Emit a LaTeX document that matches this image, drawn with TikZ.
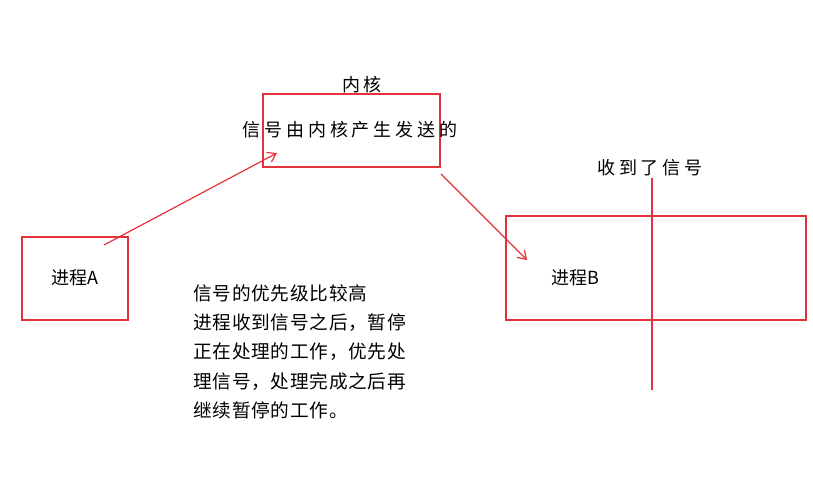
\documentclass[tikz,border=0pt]{standalone}
\usepackage{fontspec}
\newfontfamily\cjk{Noto Sans CJK SC}
\newfontfamily\cjkw[LetterSpace=22]{Noto Sans CJK SC}
\newfontfamily\cjkm[LetterSpace=4]{Noto Sans CJK SC}
\usetikzlibrary{arrows.meta}
\definecolor{lred}{RGB}{228,50,60}
\begin{document}
\begin{tikzpicture}[x=0.75pt,y=-0.75pt,
  box/.style={draw=lred, line width=0.9pt},
  conn/.style={draw=lred, line width=0.9pt, -{Straight Barb[length=6pt,width=8pt]}},
  txt/.style={font=\cjk\fontsize{13.5}{22}\selectfont, inner sep=0pt}]
\useasboundingbox (0,0) rectangle (813,476);
\path[box] (263,94) rectangle (440,167);
\path[box] (22,237) rectangle (128,320);
\path[box] (506,216) rectangle (806,320);
\node[txt, font=\cjkw\fontsize{13.5}{22}\selectfont] (kt) at (362,85) {内核};
\node[txt, font=\cjkw\fontsize{13.5}{22}\selectfont] (ks) at (350,130) {信号由内核产生发送的};
\node[txt] (a) at (75,278) {进程A};
\node[txt] (b) at (575,278) {进程B};
\node[txt, font=\cjkw\fontsize{13.5}{22}\selectfont] (r) at (650,168) {收到了信号};
\coordinate (a1) at (104,245); \coordinate (k1) at (277,153);
\coordinate (k2) at (441,174); \coordinate (b1) at (527,260);
\coordinate (v1) at (652,178); \coordinate (v2) at (652,390);
\path[conn] (a1) -- (k1);
\path[conn] (k2) -- (b1);
\path[box] (v1) -- (v2);
\node[txt, font=\cjkm\fontsize{14}{22}\selectfont, anchor=north west, align=left] (n) at (193,284) {信号的优先级比较高\\进程收到信号之后，暂停\\正在处理的工作，优先处\\理信号，处理完成之后再\\继续暂停的工作。};
\end{tikzpicture}
\end{document}
